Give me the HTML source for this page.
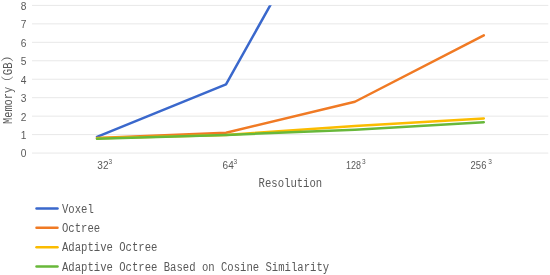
<!DOCTYPE html>
<html><head><meta charset="utf-8">
<style>
html,body{margin:0;padding:0;background:#fff;}
body{width:550px;height:275px;overflow:hidden;}
svg{display:block;filter:blur(0.25px);}
.ax{font-family:"Liberation Sans","Noto Sans CJK SC",sans-serif;font-size:10.2px;fill:#595959;}
.mono{font-family:"Liberation Mono","Noto Serif CJK SC",monospace;font-size:12.5px;fill:#595959;}
.cjk{font-family:"Noto Serif CJK SC","Liberation Mono",serif;}
</style></head>
<body>
<svg width="550" height="275" viewBox="0 0 550 275">
<defs><clipPath id="plot"><rect x="0" y="5.20" width="550" height="200"/></clipPath></defs>
<g stroke="#e8e8e8" stroke-width="1">
<line x1="32" x2="548.3" y1="5.40" y2="5.40"/>
<line x1="32" x2="548.3" y1="23.86" y2="23.86"/>
<line x1="32" x2="548.3" y1="42.32" y2="42.32"/>
<line x1="32" x2="548.3" y1="60.78" y2="60.78"/>
<line x1="32" x2="548.3" y1="79.24" y2="79.24"/>
<line x1="32" x2="548.3" y1="97.70" y2="97.70"/>
<line x1="32" x2="548.3" y1="116.16" y2="116.16"/>
<line x1="32" x2="548.3" y1="134.62" y2="134.62"/>
<line x1="32" x2="548.3" y1="153.08" y2="153.08"/>
</g>
<g class="ax" text-anchor="end">
<text x="26.4" y="9.80">8</text>
<text x="26.4" y="28.26">7</text>
<text x="26.4" y="46.72">6</text>
<text x="26.4" y="65.18">5</text>
<text x="26.4" y="83.64">4</text>
<text x="26.4" y="102.10">3</text>
<text x="26.4" y="120.56">2</text>
<text x="26.4" y="139.02">1</text>
<text x="26.4" y="157.48">0</text>
</g>
<g class="ax">
<text x="97.3" y="168.7" textLength="11.2" lengthAdjust="spacingAndGlyphs">32</text><text x="108.6" y="164.1" font-size="6.5">3</text>
<text x="222.6" y="168.7" textLength="11.2" lengthAdjust="spacingAndGlyphs">64</text><text x="233.4" y="164.1" font-size="6.5">3</text>
<text x="345.9" y="168.7" textLength="15.0" lengthAdjust="spacingAndGlyphs">128</text><text x="362" y="164.1" font-size="6.5">3</text>
<text x="470.6" y="168.7" textLength="15.8" lengthAdjust="spacingAndGlyphs">256</text><text x="488.3" y="164.1" font-size="6.5">3</text>
</g>
<text class="mono" x="258.6" y="187.3" textLength="63.60" lengthAdjust="spacingAndGlyphs">Resolution</text>
<text class="mono" transform="translate(12.0,124.0) rotate(-90)"><tspan textLength="37.20" lengthAdjust="spacingAndGlyphs">Memory</tspan><tspan class="cjk" font-size="12.66" dx="-1.5">（</tspan><tspan textLength="12.72" lengthAdjust="spacingAndGlyphs" dx="0.5">GB</tspan><tspan class="cjk" font-size="12.66" dx="0.5">）</tspan></text>
<g fill="none" stroke-width="2.5" stroke-linejoin="round" stroke-linecap="round" clip-path="url(#plot)">
<polyline stroke="#3a68cc" points="97.00,136.84 226.00,84.41 354.90,-145.97 483.80,-400.72"/>
<polyline stroke="#f07a24" points="97.00,137.94 226.00,132.77 354.90,101.76 483.80,35.31"/>
<polyline stroke="#fbbc00" points="97.00,138.31 226.00,134.99 354.90,125.94 483.80,118.38"/>
<polyline stroke="#68b83a" points="97.00,138.68 226.00,134.99 354.90,129.64 483.80,122.25"/>
</g>
<g stroke-width="2.5" stroke-linecap="round">
<line x1="36.5" x2="57.5" y1="208.40" y2="208.40" stroke="#3a68cc"/>
<line x1="36.5" x2="57.5" y1="227.80" y2="227.80" stroke="#f07a24"/>
<line x1="36.5" x2="57.5" y1="247.20" y2="247.20" stroke="#fbbc00"/>
<line x1="36.5" x2="57.5" y1="266.60" y2="266.60" stroke="#68b83a"/>
</g>
<g class="mono">
<text x="62" y="212.50" textLength="31.80" lengthAdjust="spacingAndGlyphs">Voxel</text>
<text x="62" y="231.90" textLength="38.16" lengthAdjust="spacingAndGlyphs">Octree</text>
<text x="62" y="251.30" textLength="95.40" lengthAdjust="spacingAndGlyphs">Adaptive Octree</text>
<text x="62" y="270.70" textLength="267.12" lengthAdjust="spacingAndGlyphs">Adaptive Octree Based on Cosine Similarity</text>
</g>
</svg>
</body></html>
